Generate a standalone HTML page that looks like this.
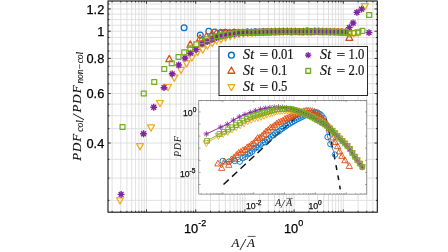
<!DOCTYPE html>
<html><head><meta charset="utf-8"><title>PDF ratio</title>
<style>html,body{margin:0;padding:0;background:#fff}body{width:448px;height:252px;overflow:hidden}svg{display:block}</style>
</head><body>
<svg width="448" height="252" viewBox="0 0 448 252">
<rect x="0" y="0" width="448" height="252" fill="#fff"/>
<defs><filter id="soft" x="-5%" y="-5%" width="110%" height="110%"><feGaussianBlur stdDeviation="0.4"/></filter></defs>
<path d="M112.11 1.0V212.2M120.77 1.0V212.2M126.92 1.0V212.2M131.69 1.0V212.2M135.59 1.0V212.2M138.88 1.0V212.2M141.73 1.0V212.2M144.25 1.0V212.2M146.50 1.0V212.2M161.31 1.0V212.2M169.97 1.0V212.2M176.12 1.0V212.2M180.89 1.0V212.2M184.79 1.0V212.2M188.08 1.0V212.2M190.93 1.0V212.2M193.45 1.0V212.2M195.70 1.0V212.2M210.51 1.0V212.2M219.17 1.0V212.2M225.32 1.0V212.2M230.09 1.0V212.2M233.99 1.0V212.2M237.28 1.0V212.2M240.13 1.0V212.2M242.65 1.0V212.2M244.90 1.0V212.2M259.71 1.0V212.2M268.37 1.0V212.2M274.52 1.0V212.2M279.29 1.0V212.2M283.19 1.0V212.2M286.48 1.0V212.2M289.33 1.0V212.2M291.85 1.0V212.2M294.10 1.0V212.2M308.91 1.0V212.2M317.57 1.0V212.2M323.72 1.0V212.2M328.49 1.0V212.2M332.39 1.0V212.2M335.68 1.0V212.2M338.53 1.0V212.2M341.05 1.0V212.2M343.30 1.0V212.2M358.11 1.0V212.2M366.77 1.0V212.2M372.92 1.0V212.2M108.0 200.38H377.3M108.0 178.13H377.3M108.0 159.32H377.3M108.0 143.02H377.3M108.0 128.65H377.3M108.0 115.79H377.3M108.0 104.16H377.3M108.0 93.54H377.3M108.0 83.77H377.3M108.0 74.73H377.3M108.0 66.31H377.3M108.0 58.43H377.3M108.0 51.03H377.3M108.0 44.06H377.3M108.0 37.46H377.3M108.0 31.20H377.3M108.0 25.25H377.3M108.0 19.57H377.3M108.0 14.14H377.3M108.0 8.95H377.3M108.0 3.97H377.3" stroke="#dcdcdc" stroke-width="0.85" fill="none"/>
<g id="data" filter="url(#soft)">
<circle cx="184.10" cy="27.70" r="2.9" stroke="#0070C4" stroke-width="1.2" fill="none"/>
<circle cx="200.30" cy="35.00" r="2.9" stroke="#0070C4" stroke-width="1.2" fill="none"/>
<circle cx="208.80" cy="31.20" r="2.9" stroke="#0070C4" stroke-width="1.2" fill="none"/>
<circle cx="214.80" cy="32.00" r="2.9" stroke="#0070C4" stroke-width="1.2" fill="none"/>
<circle cx="220.74" cy="32.44" r="2.9" stroke="#0070C4" stroke-width="1.2" fill="none"/>
<circle cx="225.18" cy="32.29" r="2.9" stroke="#0070C4" stroke-width="1.2" fill="none"/>
<circle cx="229.62" cy="32.74" r="2.9" stroke="#0070C4" stroke-width="1.2" fill="none"/>
<circle cx="234.06" cy="32.22" r="2.9" stroke="#0070C4" stroke-width="1.2" fill="none"/>
<circle cx="238.50" cy="32.63" r="2.9" stroke="#0070C4" stroke-width="1.2" fill="none"/>
<circle cx="242.94" cy="32.48" r="2.9" stroke="#0070C4" stroke-width="1.2" fill="none"/>
<circle cx="247.38" cy="32.07" r="2.9" stroke="#0070C4" stroke-width="1.2" fill="none"/>
<circle cx="251.38" cy="32.36" r="2.9" stroke="#0070C4" stroke-width="1.2" fill="none"/>
<circle cx="255.38" cy="31.82" r="2.9" stroke="#0070C4" stroke-width="1.2" fill="none"/>
<circle cx="259.38" cy="32.05" r="2.9" stroke="#0070C4" stroke-width="1.2" fill="none"/>
<circle cx="263.38" cy="31.61" r="2.9" stroke="#0070C4" stroke-width="1.2" fill="none"/>
<circle cx="267.38" cy="31.51" r="2.9" stroke="#0070C4" stroke-width="1.2" fill="none"/>
<circle cx="271.38" cy="31.69" r="2.9" stroke="#0070C4" stroke-width="1.2" fill="none"/>
<circle cx="275.38" cy="31.93" r="2.9" stroke="#0070C4" stroke-width="1.2" fill="none"/>
<circle cx="279.38" cy="31.18" r="2.9" stroke="#0070C4" stroke-width="1.2" fill="none"/>
<circle cx="283.38" cy="31.25" r="2.9" stroke="#0070C4" stroke-width="1.2" fill="none"/>
<circle cx="287.38" cy="31.61" r="2.9" stroke="#0070C4" stroke-width="1.2" fill="none"/>
<circle cx="291.38" cy="31.90" r="2.9" stroke="#0070C4" stroke-width="1.2" fill="none"/>
<circle cx="295.38" cy="31.57" r="2.9" stroke="#0070C4" stroke-width="1.2" fill="none"/>
<circle cx="299.38" cy="31.41" r="2.9" stroke="#0070C4" stroke-width="1.2" fill="none"/>
<circle cx="303.25" cy="31.93" r="2.9" stroke="#0070C4" stroke-width="1.2" fill="none"/>
<circle cx="307.12" cy="31.09" r="2.9" stroke="#0070C4" stroke-width="1.2" fill="none"/>
<circle cx="310.99" cy="31.82" r="2.9" stroke="#0070C4" stroke-width="1.2" fill="none"/>
<circle cx="314.86" cy="31.31" r="2.9" stroke="#0070C4" stroke-width="1.2" fill="none"/>
<circle cx="318.73" cy="31.18" r="2.9" stroke="#0070C4" stroke-width="1.2" fill="none"/>
<circle cx="322.60" cy="31.21" r="2.9" stroke="#0070C4" stroke-width="1.2" fill="none"/>
<circle cx="326.47" cy="31.47" r="2.9" stroke="#0070C4" stroke-width="1.2" fill="none"/>
<path d="M165.75 61.70L172.75 61.70L169.25 55.40Z" stroke="#DE4E12" stroke-width="1.2" fill="none" stroke-linejoin="round"/>
<path d="M186.80 47.20L193.80 47.20L190.30 40.90Z" stroke="#DE4E12" stroke-width="1.2" fill="none" stroke-linejoin="round"/>
<path d="M196.60 40.80L203.60 40.80L200.10 34.50Z" stroke="#DE4E12" stroke-width="1.2" fill="none" stroke-linejoin="round"/>
<path d="M202.90 38.99L209.90 38.99L206.40 32.70Z" stroke="#DE4E12" stroke-width="1.2" fill="none" stroke-linejoin="round"/>
<path d="M208.50 36.49L215.50 36.49L212.00 30.19Z" stroke="#DE4E12" stroke-width="1.2" fill="none" stroke-linejoin="round"/>
<path d="M212.80 35.65L219.80 35.65L216.30 29.35Z" stroke="#DE4E12" stroke-width="1.2" fill="none" stroke-linejoin="round"/>
<path d="M217.24 35.34L224.24 35.34L220.74 29.04Z" stroke="#DE4E12" stroke-width="1.2" fill="none" stroke-linejoin="round"/>
<path d="M221.68 35.54L228.68 35.54L225.18 29.24Z" stroke="#DE4E12" stroke-width="1.2" fill="none" stroke-linejoin="round"/>
<path d="M226.12 35.56L233.12 35.56L229.62 29.26Z" stroke="#DE4E12" stroke-width="1.2" fill="none" stroke-linejoin="round"/>
<path d="M230.56 35.43L237.56 35.43L234.06 29.13Z" stroke="#DE4E12" stroke-width="1.2" fill="none" stroke-linejoin="round"/>
<path d="M235.00 35.52L242.00 35.52L238.50 29.22Z" stroke="#DE4E12" stroke-width="1.2" fill="none" stroke-linejoin="round"/>
<path d="M239.44 35.28L246.44 35.28L242.94 28.98Z" stroke="#DE4E12" stroke-width="1.2" fill="none" stroke-linejoin="round"/>
<path d="M243.88 35.14L250.88 35.14L247.38 28.84Z" stroke="#DE4E12" stroke-width="1.2" fill="none" stroke-linejoin="round"/>
<path d="M247.88 35.10L254.88 35.10L251.38 28.80Z" stroke="#DE4E12" stroke-width="1.2" fill="none" stroke-linejoin="round"/>
<path d="M251.88 35.22L258.88 35.22L255.38 28.92Z" stroke="#DE4E12" stroke-width="1.2" fill="none" stroke-linejoin="round"/>
<path d="M255.88 34.97L262.88 34.97L259.38 28.67Z" stroke="#DE4E12" stroke-width="1.2" fill="none" stroke-linejoin="round"/>
<path d="M259.88 34.80L266.88 34.80L263.38 28.50Z" stroke="#DE4E12" stroke-width="1.2" fill="none" stroke-linejoin="round"/>
<path d="M263.88 34.81L270.88 34.81L267.38 28.51Z" stroke="#DE4E12" stroke-width="1.2" fill="none" stroke-linejoin="round"/>
<path d="M267.88 34.63L274.88 34.63L271.38 28.33Z" stroke="#DE4E12" stroke-width="1.2" fill="none" stroke-linejoin="round"/>
<path d="M271.88 34.43L278.88 34.43L275.38 28.13Z" stroke="#DE4E12" stroke-width="1.2" fill="none" stroke-linejoin="round"/>
<path d="M275.88 34.56L282.88 34.56L279.38 28.26Z" stroke="#DE4E12" stroke-width="1.2" fill="none" stroke-linejoin="round"/>
<path d="M279.88 34.49L286.88 34.49L283.38 28.19Z" stroke="#DE4E12" stroke-width="1.2" fill="none" stroke-linejoin="round"/>
<path d="M283.88 34.27L290.88 34.27L287.38 27.97Z" stroke="#DE4E12" stroke-width="1.2" fill="none" stroke-linejoin="round"/>
<path d="M287.88 34.43L294.88 34.43L291.38 28.13Z" stroke="#DE4E12" stroke-width="1.2" fill="none" stroke-linejoin="round"/>
<path d="M291.88 34.41L298.88 34.41L295.38 28.11Z" stroke="#DE4E12" stroke-width="1.2" fill="none" stroke-linejoin="round"/>
<path d="M295.88 34.58L302.88 34.58L299.38 28.28Z" stroke="#DE4E12" stroke-width="1.2" fill="none" stroke-linejoin="round"/>
<path d="M299.75 34.51L306.75 34.51L303.25 28.21Z" stroke="#DE4E12" stroke-width="1.2" fill="none" stroke-linejoin="round"/>
<path d="M303.62 34.29L310.62 34.29L307.12 27.99Z" stroke="#DE4E12" stroke-width="1.2" fill="none" stroke-linejoin="round"/>
<path d="M307.49 34.64L314.49 34.64L310.99 28.34Z" stroke="#DE4E12" stroke-width="1.2" fill="none" stroke-linejoin="round"/>
<path d="M311.36 34.20L318.36 34.20L314.86 27.90Z" stroke="#DE4E12" stroke-width="1.2" fill="none" stroke-linejoin="round"/>
<path d="M315.23 34.35L322.23 34.35L318.73 28.05Z" stroke="#DE4E12" stroke-width="1.2" fill="none" stroke-linejoin="round"/>
<path d="M319.10 34.58L326.10 34.58L322.60 28.28Z" stroke="#DE4E12" stroke-width="1.2" fill="none" stroke-linejoin="round"/>
<path d="M322.97 34.36L329.97 34.36L326.47 28.06Z" stroke="#DE4E12" stroke-width="1.2" fill="none" stroke-linejoin="round"/>
<path d="M326.84 34.62L333.84 34.62L330.34 28.32Z" stroke="#DE4E12" stroke-width="1.2" fill="none" stroke-linejoin="round"/>
<path d="M330.71 34.48L337.71 34.48L334.21 28.18Z" stroke="#DE4E12" stroke-width="1.2" fill="none" stroke-linejoin="round"/>
<path d="M334.58 34.88L341.58 34.88L338.08 28.58Z" stroke="#DE4E12" stroke-width="1.2" fill="none" stroke-linejoin="round"/>
<path d="M338.45 35.01L345.45 35.01L341.95 28.71Z" stroke="#DE4E12" stroke-width="1.2" fill="none" stroke-linejoin="round"/>
<path d="M342.32 35.00L349.32 35.00L345.82 28.70Z" stroke="#DE4E12" stroke-width="1.2" fill="none" stroke-linejoin="round"/>
<path d="M345.80 40.40L352.80 40.40L349.30 34.10Z" stroke="#DE4E12" stroke-width="1.2" fill="none" stroke-linejoin="round"/>
<path d="M116.50 197.81L123.50 197.81L120.00 204.10Z" stroke="#F0AB18" stroke-width="1.2" fill="none" stroke-linejoin="round"/>
<path d="M136.50 143.56L143.50 143.56L140.00 149.85Z" stroke="#F0AB18" stroke-width="1.2" fill="none" stroke-linejoin="round"/>
<path d="M147.50 124.91L154.50 124.91L151.00 131.20Z" stroke="#F0AB18" stroke-width="1.2" fill="none" stroke-linejoin="round"/>
<path d="M156.50 100.50L163.50 100.50L160.00 106.81Z" stroke="#F0AB18" stroke-width="1.2" fill="none" stroke-linejoin="round"/>
<path d="M164.50 84.50L171.50 84.50L168.00 90.81Z" stroke="#F0AB18" stroke-width="1.2" fill="none" stroke-linejoin="round"/>
<path d="M170.75 75.10L177.75 75.10L174.25 81.41Z" stroke="#F0AB18" stroke-width="1.2" fill="none" stroke-linejoin="round"/>
<path d="M177.50 67.31L184.50 67.31L181.00 73.61Z" stroke="#F0AB18" stroke-width="1.2" fill="none" stroke-linejoin="round"/>
<path d="M183.00 60.80L190.00 60.80L186.50 67.11Z" stroke="#F0AB18" stroke-width="1.2" fill="none" stroke-linejoin="round"/>
<path d="M188.40 54.91L195.40 54.91L191.90 61.20Z" stroke="#F0AB18" stroke-width="1.2" fill="none" stroke-linejoin="round"/>
<path d="M194.10 49.30L201.10 49.30L197.60 55.60Z" stroke="#F0AB18" stroke-width="1.2" fill="none" stroke-linejoin="round"/>
<path d="M199.20 46.91L206.20 46.91L202.70 53.20Z" stroke="#F0AB18" stroke-width="1.2" fill="none" stroke-linejoin="round"/>
<path d="M204.00 42.91L211.00 42.91L207.50 49.20Z" stroke="#F0AB18" stroke-width="1.2" fill="none" stroke-linejoin="round"/>
<path d="M208.70 40.41L215.70 40.41L212.20 46.70Z" stroke="#F0AB18" stroke-width="1.2" fill="none" stroke-linejoin="round"/>
<path d="M213.10 37.70L220.10 37.70L216.60 44.00Z" stroke="#F0AB18" stroke-width="1.2" fill="none" stroke-linejoin="round"/>
<path d="M217.50 36.60L224.50 36.60L221.00 42.90Z" stroke="#F0AB18" stroke-width="1.2" fill="none" stroke-linejoin="round"/>
<path d="M222.00 34.80L229.00 34.80L225.50 41.10Z" stroke="#F0AB18" stroke-width="1.2" fill="none" stroke-linejoin="round"/>
<path d="M226.80 33.30L233.80 33.30L230.30 39.60Z" stroke="#F0AB18" stroke-width="1.2" fill="none" stroke-linejoin="round"/>
<path d="M231.10 32.10L238.10 32.10L234.60 38.40Z" stroke="#F0AB18" stroke-width="1.2" fill="none" stroke-linejoin="round"/>
<path d="M235.50 31.30L242.50 31.30L239.00 37.60Z" stroke="#F0AB18" stroke-width="1.2" fill="none" stroke-linejoin="round"/>
<path d="M239.90 30.70L246.90 30.70L243.40 37.00Z" stroke="#F0AB18" stroke-width="1.2" fill="none" stroke-linejoin="round"/>
<path d="M244.30 30.30L251.30 30.30L247.80 36.60Z" stroke="#F0AB18" stroke-width="1.2" fill="none" stroke-linejoin="round"/>
<path d="M248.70 30.10L255.70 30.10L252.20 36.40Z" stroke="#F0AB18" stroke-width="1.2" fill="none" stroke-linejoin="round"/>
<path d="M251.88 29.72L258.88 29.72L255.38 36.02Z" stroke="#F0AB18" stroke-width="1.2" fill="none" stroke-linejoin="round"/>
<path d="M255.88 29.32L262.88 29.32L259.38 35.62Z" stroke="#F0AB18" stroke-width="1.2" fill="none" stroke-linejoin="round"/>
<path d="M259.88 29.40L266.88 29.40L263.38 35.70Z" stroke="#F0AB18" stroke-width="1.2" fill="none" stroke-linejoin="round"/>
<path d="M263.88 29.23L270.88 29.23L267.38 35.53Z" stroke="#F0AB18" stroke-width="1.2" fill="none" stroke-linejoin="round"/>
<path d="M267.88 29.10L274.88 29.10L271.38 35.40Z" stroke="#F0AB18" stroke-width="1.2" fill="none" stroke-linejoin="round"/>
<path d="M271.88 28.92L278.88 28.92L275.38 35.22Z" stroke="#F0AB18" stroke-width="1.2" fill="none" stroke-linejoin="round"/>
<path d="M275.88 28.99L282.88 28.99L279.38 35.29Z" stroke="#F0AB18" stroke-width="1.2" fill="none" stroke-linejoin="round"/>
<path d="M279.88 29.03L286.88 29.03L283.38 35.33Z" stroke="#F0AB18" stroke-width="1.2" fill="none" stroke-linejoin="round"/>
<path d="M283.88 28.79L290.88 28.79L287.38 35.09Z" stroke="#F0AB18" stroke-width="1.2" fill="none" stroke-linejoin="round"/>
<path d="M287.88 28.89L294.88 28.89L291.38 35.19Z" stroke="#F0AB18" stroke-width="1.2" fill="none" stroke-linejoin="round"/>
<path d="M291.88 28.59L298.88 28.59L295.38 34.89Z" stroke="#F0AB18" stroke-width="1.2" fill="none" stroke-linejoin="round"/>
<path d="M295.88 28.91L302.88 28.91L299.38 35.21Z" stroke="#F0AB18" stroke-width="1.2" fill="none" stroke-linejoin="round"/>
<path d="M299.75 28.88L306.75 28.88L303.25 35.18Z" stroke="#F0AB18" stroke-width="1.2" fill="none" stroke-linejoin="round"/>
<path d="M303.62 29.05L310.62 29.05L307.12 35.35Z" stroke="#F0AB18" stroke-width="1.2" fill="none" stroke-linejoin="round"/>
<path d="M307.49 28.97L314.49 28.97L310.99 35.27Z" stroke="#F0AB18" stroke-width="1.2" fill="none" stroke-linejoin="round"/>
<path d="M311.36 28.70L318.36 28.70L314.86 35.00Z" stroke="#F0AB18" stroke-width="1.2" fill="none" stroke-linejoin="round"/>
<path d="M315.23 28.75L322.23 28.75L318.73 35.05Z" stroke="#F0AB18" stroke-width="1.2" fill="none" stroke-linejoin="round"/>
<path d="M319.10 28.95L326.10 28.95L322.60 35.25Z" stroke="#F0AB18" stroke-width="1.2" fill="none" stroke-linejoin="round"/>
<path d="M322.97 28.71L329.97 28.71L326.47 35.01Z" stroke="#F0AB18" stroke-width="1.2" fill="none" stroke-linejoin="round"/>
<path d="M326.84 29.01L333.84 29.01L330.34 35.31Z" stroke="#F0AB18" stroke-width="1.2" fill="none" stroke-linejoin="round"/>
<path d="M330.71 28.95L337.71 28.95L334.21 35.25Z" stroke="#F0AB18" stroke-width="1.2" fill="none" stroke-linejoin="round"/>
<path d="M334.58 29.01L341.58 29.01L338.08 35.31Z" stroke="#F0AB18" stroke-width="1.2" fill="none" stroke-linejoin="round"/>
<path d="M338.45 29.07L345.45 29.07L341.95 35.37Z" stroke="#F0AB18" stroke-width="1.2" fill="none" stroke-linejoin="round"/>
<path d="M342.32 29.51L349.32 29.51L345.82 35.81Z" stroke="#F0AB18" stroke-width="1.2" fill="none" stroke-linejoin="round"/>
<path d="M345.80 30.70L352.80 30.70L349.30 37.00Z" stroke="#F0AB18" stroke-width="1.2" fill="none" stroke-linejoin="round"/>
<path d="M350.25 30.51L357.25 30.51L353.75 36.80Z" stroke="#F0AB18" stroke-width="1.2" fill="none" stroke-linejoin="round"/>
<path d="M354.70 29.80L361.70 29.80L358.20 36.10Z" stroke="#F0AB18" stroke-width="1.2" fill="none" stroke-linejoin="round"/>
<path d="M361.40 3.60L368.40 3.60L364.90 9.90Z" stroke="#F0AB18" stroke-width="1.2" fill="none" stroke-linejoin="round"/>
<path d="M117.70 194.40H124.50M121.10 191.00V197.80M118.70 192.00L123.50 196.80M118.70 196.80L123.50 192.00" stroke="#80259A" stroke-width="1.4" fill="none"/>
<path d="M140.10 133.75H146.90M143.50 130.35V137.15M141.10 131.35L145.90 136.15M141.10 136.15L145.90 131.35" stroke="#80259A" stroke-width="1.4" fill="none"/>
<path d="M150.35 107.25H157.15M153.75 103.85V110.65M151.35 104.85L156.15 109.65M151.35 109.65L156.15 104.85" stroke="#80259A" stroke-width="1.4" fill="none"/>
<path d="M160.60 87.70H167.40M164.00 84.30V91.10M161.60 85.30L166.40 90.10M161.60 90.10L166.40 85.30" stroke="#80259A" stroke-width="1.4" fill="none"/>
<path d="M168.80 73.80H175.60M172.20 70.40V77.20M169.80 71.40L174.60 76.20M169.80 76.20L174.60 71.40" stroke="#80259A" stroke-width="1.4" fill="none"/>
<path d="M175.35 65.00H182.15M178.75 61.60V68.40M176.35 62.60L181.15 67.40M176.35 67.40L181.15 62.60" stroke="#80259A" stroke-width="1.4" fill="none"/>
<path d="M181.60 58.00H188.40M185.00 54.60V61.40M182.60 55.60L187.40 60.40M182.60 60.40L187.40 55.60" stroke="#80259A" stroke-width="1.4" fill="none"/>
<path d="M187.00 53.20H193.80M190.40 49.80V56.60M188.00 50.80L192.80 55.60M188.00 55.60L192.80 50.80" stroke="#80259A" stroke-width="1.4" fill="none"/>
<path d="M192.60 49.50H199.40M196.00 46.10V52.90M193.60 47.10L198.40 51.90M193.60 51.90L198.40 47.10" stroke="#80259A" stroke-width="1.4" fill="none"/>
<path d="M198.60 43.90H205.40M202.00 40.50V47.30M199.60 41.50L204.40 46.30M199.60 46.30L204.40 41.50" stroke="#80259A" stroke-width="1.4" fill="none"/>
<path d="M203.70 41.70H210.50M207.10 38.30V45.10M204.70 39.30L209.50 44.10M204.70 44.10L209.50 39.30" stroke="#80259A" stroke-width="1.4" fill="none"/>
<path d="M208.60 39.70H215.40M212.00 36.30V43.10M209.60 37.30L214.40 42.10M209.60 42.10L214.40 37.30" stroke="#80259A" stroke-width="1.4" fill="none"/>
<path d="M213.20 37.50H220.00M216.60 34.10V40.90M214.20 35.10L219.00 39.90M214.20 39.90L219.00 35.10" stroke="#80259A" stroke-width="1.4" fill="none"/>
<path d="M217.60 36.25H224.40M221.00 32.85V39.65M218.60 33.85L223.40 38.65M218.60 38.65L223.40 33.85" stroke="#80259A" stroke-width="1.4" fill="none"/>
<path d="M222.10 35.30H228.90M225.50 31.90V38.70M223.10 32.90L227.90 37.70M223.10 37.70L227.90 32.90" stroke="#80259A" stroke-width="1.4" fill="none"/>
<path d="M226.60 34.50H233.40M230.00 31.10V37.90M227.60 32.10L232.40 36.90M227.60 36.90L232.40 32.10" stroke="#80259A" stroke-width="1.4" fill="none"/>
<path d="M231.00 33.80H237.80M234.40 30.40V37.20M232.00 31.40L236.80 36.20M232.00 36.20L236.80 31.40" stroke="#80259A" stroke-width="1.4" fill="none"/>
<path d="M235.40 33.20H242.20M238.80 29.80V36.60M236.40 30.80L241.20 35.60M236.40 35.60L241.20 30.80" stroke="#80259A" stroke-width="1.4" fill="none"/>
<path d="M239.80 32.80H246.60M243.20 29.40V36.20M240.80 30.40L245.60 35.20M240.80 35.20L245.60 30.40" stroke="#80259A" stroke-width="1.4" fill="none"/>
<path d="M243.98 32.47H250.78M247.38 29.07V35.87M244.98 30.07L249.78 34.87M244.98 34.87L249.78 30.07" stroke="#80259A" stroke-width="1.4" fill="none"/>
<path d="M247.98 32.35H254.78M251.38 28.95V35.75M248.98 29.95L253.78 34.76M248.98 34.76L253.78 29.95" stroke="#80259A" stroke-width="1.4" fill="none"/>
<path d="M251.98 32.23H258.78M255.38 28.83V35.63M252.98 29.83L257.78 34.64M252.98 34.64L257.78 29.83" stroke="#80259A" stroke-width="1.4" fill="none"/>
<path d="M255.98 32.11H262.78M259.38 28.71V35.51M256.98 29.71L261.78 34.52M256.98 34.52L261.78 29.71" stroke="#80259A" stroke-width="1.4" fill="none"/>
<path d="M259.98 31.99H266.78M263.38 28.59V35.39M260.98 29.59L265.78 34.40M260.98 34.40L265.78 29.59" stroke="#80259A" stroke-width="1.4" fill="none"/>
<path d="M263.98 31.88H270.78M267.38 28.48V35.28M264.98 29.47L269.78 34.28M264.98 34.28L269.78 29.47" stroke="#80259A" stroke-width="1.4" fill="none"/>
<path d="M267.98 31.76H274.78M271.38 28.36V35.16M268.98 29.35L273.78 34.16M268.98 34.16L273.78 29.35" stroke="#80259A" stroke-width="1.4" fill="none"/>
<path d="M271.98 31.64H278.78M275.38 28.24V35.04M272.98 29.23L277.78 34.04M272.98 34.04L277.78 29.23" stroke="#80259A" stroke-width="1.4" fill="none"/>
<path d="M275.98 31.52H282.78M279.38 28.12V34.92M276.98 29.11L281.78 33.92M276.98 33.92L281.78 29.11" stroke="#80259A" stroke-width="1.4" fill="none"/>
<path d="M279.98 31.50H286.78M283.38 28.10V34.90M280.98 29.10L285.78 33.90M280.98 33.90L285.78 29.10" stroke="#80259A" stroke-width="1.4" fill="none"/>
<path d="M283.98 31.50H290.78M287.38 28.10V34.90M284.98 29.10L289.78 33.90M284.98 33.90L289.78 29.10" stroke="#80259A" stroke-width="1.4" fill="none"/>
<path d="M287.98 31.50H294.78M291.38 28.10V34.90M288.98 29.10L293.78 33.90M288.98 33.90L293.78 29.10" stroke="#80259A" stroke-width="1.4" fill="none"/>
<path d="M291.98 31.50H298.78M295.38 28.10V34.90M292.98 29.10L297.78 33.90M292.98 33.90L297.78 29.10" stroke="#80259A" stroke-width="1.4" fill="none"/>
<path d="M295.98 31.50H302.78M299.38 28.10V34.90M296.98 29.10L301.78 33.90M296.98 33.90L301.78 29.10" stroke="#80259A" stroke-width="1.4" fill="none"/>
<path d="M299.85 31.50H306.65M303.25 28.10V34.90M300.85 29.10L305.65 33.90M300.85 33.90L305.65 29.10" stroke="#80259A" stroke-width="1.4" fill="none"/>
<path d="M303.72 31.50H310.52M307.12 28.10V34.90M304.72 29.10L309.52 33.90M304.72 33.90L309.52 29.10" stroke="#80259A" stroke-width="1.4" fill="none"/>
<path d="M307.59 31.50H314.39M310.99 28.10V34.90M308.59 29.10L313.39 33.90M308.59 33.90L313.39 29.10" stroke="#80259A" stroke-width="1.4" fill="none"/>
<path d="M311.46 31.50H318.26M314.86 28.10V34.90M312.46 29.10L317.26 33.90M312.46 33.90L317.26 29.10" stroke="#80259A" stroke-width="1.4" fill="none"/>
<path d="M315.33 31.50H322.13M318.73 28.10V34.90M316.33 29.10L321.13 33.90M316.33 33.90L321.13 29.10" stroke="#80259A" stroke-width="1.4" fill="none"/>
<path d="M319.20 31.56H326.00M322.60 28.16V34.96M320.20 29.15L325.00 33.96M320.20 33.96L325.00 29.15" stroke="#80259A" stroke-width="1.4" fill="none"/>
<path d="M323.07 31.64H329.87M326.47 28.24V35.04M324.07 29.24L328.87 34.05M324.07 34.05L328.87 29.24" stroke="#80259A" stroke-width="1.4" fill="none"/>
<path d="M326.94 31.73H333.74M330.34 28.33V35.13M327.94 29.32L332.74 34.13M327.94 34.13L332.74 29.32" stroke="#80259A" stroke-width="1.4" fill="none"/>
<path d="M330.81 31.81H337.61M334.21 28.41V35.21M331.81 29.41L336.61 34.22M331.81 34.22L336.61 29.41" stroke="#80259A" stroke-width="1.4" fill="none"/>
<path d="M334.68 31.90H341.48M338.08 28.50V35.30M335.68 29.49L340.48 34.30M335.68 34.30L340.48 29.49" stroke="#80259A" stroke-width="1.4" fill="none"/>
<path d="M338.55 31.98H345.35M341.95 28.58V35.38M339.55 29.58L344.35 34.39M339.55 34.39L344.35 29.58" stroke="#80259A" stroke-width="1.4" fill="none"/>
<path d="M342.42 32.07H349.22M345.82 28.67V35.47M343.42 29.66L348.22 34.47M343.42 34.47L348.22 29.66" stroke="#80259A" stroke-width="1.4" fill="none"/>
<path d="M345.90 27.60H352.70M349.30 24.20V31.00M346.90 25.20L351.70 30.00M346.90 30.00L351.70 25.20" stroke="#80259A" stroke-width="1.4" fill="none"/>
<path d="M349.70 23.00H356.50M353.10 19.60V26.40M350.70 20.60L355.50 25.40M350.70 25.40L355.50 20.60" stroke="#80259A" stroke-width="1.4" fill="none"/>
<path d="M353.50 12.40H360.30M356.90 9.00V15.80M354.50 10.00L359.30 14.80M354.50 14.80L359.30 10.00" stroke="#80259A" stroke-width="1.4" fill="none"/>
<path d="M358.20 9.10H365.00M361.60 5.70V12.50M359.20 6.70L364.00 11.50M359.20 11.50L364.00 6.70" stroke="#80259A" stroke-width="1.4" fill="none"/>
<path d="M365.60 32.60H372.40M369.00 29.20V36.00M366.60 30.20L371.40 35.00M366.60 35.00L371.40 30.20" stroke="#80259A" stroke-width="1.4" fill="none"/>
<rect x="120.05" y="124.55" width="4.90" height="4.90" stroke="#6FAE22" stroke-width="1.2" fill="none" stroke-linejoin="round"/>
<rect x="141.30" y="91.05" width="4.90" height="4.90" stroke="#6FAE22" stroke-width="1.2" fill="none" stroke-linejoin="round"/>
<rect x="151.80" y="79.55" width="4.90" height="4.90" stroke="#6FAE22" stroke-width="1.2" fill="none" stroke-linejoin="round"/>
<rect x="161.80" y="66.55" width="4.90" height="4.90" stroke="#6FAE22" stroke-width="1.2" fill="none" stroke-linejoin="round"/>
<rect x="169.30" y="60.75" width="4.90" height="4.90" stroke="#6FAE22" stroke-width="1.2" fill="none" stroke-linejoin="round"/>
<rect x="176.05" y="54.55" width="4.90" height="4.90" stroke="#6FAE22" stroke-width="1.2" fill="none" stroke-linejoin="round"/>
<rect x="181.80" y="49.85" width="4.90" height="4.90" stroke="#6FAE22" stroke-width="1.2" fill="none" stroke-linejoin="round"/>
<rect x="187.85" y="45.85" width="4.90" height="4.90" stroke="#6FAE22" stroke-width="1.2" fill="none" stroke-linejoin="round"/>
<rect x="193.85" y="41.80" width="4.90" height="4.90" stroke="#6FAE22" stroke-width="1.2" fill="none" stroke-linejoin="round"/>
<rect x="199.55" y="38.65" width="4.90" height="4.90" stroke="#6FAE22" stroke-width="1.2" fill="none" stroke-linejoin="round"/>
<rect x="204.65" y="36.75" width="4.90" height="4.90" stroke="#6FAE22" stroke-width="1.2" fill="none" stroke-linejoin="round"/>
<rect x="209.75" y="35.05" width="4.90" height="4.90" stroke="#6FAE22" stroke-width="1.2" fill="none" stroke-linejoin="round"/>
<rect x="214.15" y="33.80" width="4.90" height="4.90" stroke="#6FAE22" stroke-width="1.2" fill="none" stroke-linejoin="round"/>
<rect x="218.65" y="32.95" width="4.90" height="4.90" stroke="#6FAE22" stroke-width="1.2" fill="none" stroke-linejoin="round"/>
<rect x="223.05" y="32.15" width="4.90" height="4.90" stroke="#6FAE22" stroke-width="1.2" fill="none" stroke-linejoin="round"/>
<rect x="227.55" y="31.55" width="4.90" height="4.90" stroke="#6FAE22" stroke-width="1.2" fill="none" stroke-linejoin="round"/>
<rect x="231.65" y="30.75" width="4.90" height="4.90" stroke="#6FAE22" stroke-width="1.2" fill="none" stroke-linejoin="round"/>
<rect x="236.05" y="30.25" width="4.90" height="4.90" stroke="#6FAE22" stroke-width="1.2" fill="none" stroke-linejoin="round"/>
<rect x="240.55" y="29.95" width="4.90" height="4.90" stroke="#6FAE22" stroke-width="1.2" fill="none" stroke-linejoin="round"/>
<rect x="244.95" y="29.75" width="4.90" height="4.90" stroke="#6FAE22" stroke-width="1.2" fill="none" stroke-linejoin="round"/>
<rect x="248.93" y="29.90" width="4.90" height="4.90" stroke="#6FAE22" stroke-width="1.2" fill="none" stroke-linejoin="round"/>
<rect x="252.93" y="29.78" width="4.90" height="4.90" stroke="#6FAE22" stroke-width="1.2" fill="none" stroke-linejoin="round"/>
<rect x="256.93" y="29.66" width="4.90" height="4.90" stroke="#6FAE22" stroke-width="1.2" fill="none" stroke-linejoin="round"/>
<rect x="260.93" y="29.54" width="4.90" height="4.90" stroke="#6FAE22" stroke-width="1.2" fill="none" stroke-linejoin="round"/>
<rect x="264.93" y="29.43" width="4.90" height="4.90" stroke="#6FAE22" stroke-width="1.2" fill="none" stroke-linejoin="round"/>
<rect x="268.93" y="29.31" width="4.90" height="4.90" stroke="#6FAE22" stroke-width="1.2" fill="none" stroke-linejoin="round"/>
<rect x="272.93" y="29.19" width="4.90" height="4.90" stroke="#6FAE22" stroke-width="1.2" fill="none" stroke-linejoin="round"/>
<rect x="276.93" y="29.07" width="4.90" height="4.90" stroke="#6FAE22" stroke-width="1.2" fill="none" stroke-linejoin="round"/>
<rect x="280.93" y="29.05" width="4.90" height="4.90" stroke="#6FAE22" stroke-width="1.2" fill="none" stroke-linejoin="round"/>
<rect x="284.93" y="29.05" width="4.90" height="4.90" stroke="#6FAE22" stroke-width="1.2" fill="none" stroke-linejoin="round"/>
<rect x="288.93" y="29.05" width="4.90" height="4.90" stroke="#6FAE22" stroke-width="1.2" fill="none" stroke-linejoin="round"/>
<rect x="292.93" y="29.05" width="4.90" height="4.90" stroke="#6FAE22" stroke-width="1.2" fill="none" stroke-linejoin="round"/>
<rect x="296.93" y="29.05" width="4.90" height="4.90" stroke="#6FAE22" stroke-width="1.2" fill="none" stroke-linejoin="round"/>
<rect x="300.80" y="29.05" width="4.90" height="4.90" stroke="#6FAE22" stroke-width="1.2" fill="none" stroke-linejoin="round"/>
<rect x="304.67" y="29.05" width="4.90" height="4.90" stroke="#6FAE22" stroke-width="1.2" fill="none" stroke-linejoin="round"/>
<rect x="308.54" y="29.05" width="4.90" height="4.90" stroke="#6FAE22" stroke-width="1.2" fill="none" stroke-linejoin="round"/>
<rect x="312.41" y="29.05" width="4.90" height="4.90" stroke="#6FAE22" stroke-width="1.2" fill="none" stroke-linejoin="round"/>
<rect x="316.28" y="29.05" width="4.90" height="4.90" stroke="#6FAE22" stroke-width="1.2" fill="none" stroke-linejoin="round"/>
<rect x="320.15" y="29.11" width="4.90" height="4.90" stroke="#6FAE22" stroke-width="1.2" fill="none" stroke-linejoin="round"/>
<rect x="324.02" y="29.19" width="4.90" height="4.90" stroke="#6FAE22" stroke-width="1.2" fill="none" stroke-linejoin="round"/>
<rect x="327.89" y="29.28" width="4.90" height="4.90" stroke="#6FAE22" stroke-width="1.2" fill="none" stroke-linejoin="round"/>
<rect x="331.76" y="29.36" width="4.90" height="4.90" stroke="#6FAE22" stroke-width="1.2" fill="none" stroke-linejoin="round"/>
<rect x="335.63" y="29.45" width="4.90" height="4.90" stroke="#6FAE22" stroke-width="1.2" fill="none" stroke-linejoin="round"/>
<rect x="339.50" y="29.53" width="4.90" height="4.90" stroke="#6FAE22" stroke-width="1.2" fill="none" stroke-linejoin="round"/>
<rect x="343.37" y="29.62" width="4.90" height="4.90" stroke="#6FAE22" stroke-width="1.2" fill="none" stroke-linejoin="round"/>
<rect x="346.85" y="30.95" width="4.90" height="4.90" stroke="#6FAE22" stroke-width="1.2" fill="none" stroke-linejoin="round"/>
<rect x="351.30" y="30.75" width="4.90" height="4.90" stroke="#6FAE22" stroke-width="1.2" fill="none" stroke-linejoin="round"/>
<rect x="355.75" y="30.05" width="4.90" height="4.90" stroke="#6FAE22" stroke-width="1.2" fill="none" stroke-linejoin="round"/>
<rect x="359.95" y="28.45" width="4.90" height="4.90" stroke="#6FAE22" stroke-width="1.2" fill="none" stroke-linejoin="round"/>
<rect x="366.75" y="12.55" width="4.90" height="4.90" stroke="#6FAE22" stroke-width="1.2" fill="none" stroke-linejoin="round"/>
</g>
<rect x="108.0" y="1.0" width="269.3" height="211.2" fill="none" stroke="#111" stroke-width="1.1"/>
<path d="M112.11 212.2v-1.4M112.11 1.0v1.4M120.77 212.2v-1.4M120.77 1.0v1.4M126.92 212.2v-1.4M126.92 1.0v1.4M131.69 212.2v-1.4M131.69 1.0v1.4M135.59 212.2v-1.4M135.59 1.0v1.4M138.88 212.2v-1.4M138.88 1.0v1.4M141.73 212.2v-1.4M141.73 1.0v1.4M144.25 212.2v-1.4M144.25 1.0v1.4M146.50 212.2v-2.8M146.50 1.0v2.8M161.31 212.2v-1.4M161.31 1.0v1.4M169.97 212.2v-1.4M169.97 1.0v1.4M176.12 212.2v-1.4M176.12 1.0v1.4M180.89 212.2v-1.4M180.89 1.0v1.4M184.79 212.2v-1.4M184.79 1.0v1.4M188.08 212.2v-1.4M188.08 1.0v1.4M190.93 212.2v-1.4M190.93 1.0v1.4M193.45 212.2v-1.4M193.45 1.0v1.4M195.70 212.2v-2.8M195.70 1.0v2.8M210.51 212.2v-1.4M210.51 1.0v1.4M219.17 212.2v-1.4M219.17 1.0v1.4M225.32 212.2v-1.4M225.32 1.0v1.4M230.09 212.2v-1.4M230.09 1.0v1.4M233.99 212.2v-1.4M233.99 1.0v1.4M237.28 212.2v-1.4M237.28 1.0v1.4M240.13 212.2v-1.4M240.13 1.0v1.4M242.65 212.2v-1.4M242.65 1.0v1.4M244.90 212.2v-2.8M244.90 1.0v2.8M259.71 212.2v-1.4M259.71 1.0v1.4M268.37 212.2v-1.4M268.37 1.0v1.4M274.52 212.2v-1.4M274.52 1.0v1.4M279.29 212.2v-1.4M279.29 1.0v1.4M283.19 212.2v-1.4M283.19 1.0v1.4M286.48 212.2v-1.4M286.48 1.0v1.4M289.33 212.2v-1.4M289.33 1.0v1.4M291.85 212.2v-1.4M291.85 1.0v1.4M294.10 212.2v-2.8M294.10 1.0v2.8M308.91 212.2v-1.4M308.91 1.0v1.4M317.57 212.2v-1.4M317.57 1.0v1.4M323.72 212.2v-1.4M323.72 1.0v1.4M328.49 212.2v-1.4M328.49 1.0v1.4M332.39 212.2v-1.4M332.39 1.0v1.4M335.68 212.2v-1.4M335.68 1.0v1.4M338.53 212.2v-1.4M338.53 1.0v1.4M341.05 212.2v-1.4M341.05 1.0v1.4M343.30 212.2v-2.8M343.30 1.0v2.8M358.11 212.2v-1.4M358.11 1.0v1.4M366.77 212.2v-1.4M366.77 1.0v1.4M372.92 212.2v-1.4M372.92 1.0v1.4M108.0 200.38h1.4M377.3 200.38h-1.4M108.0 178.13h1.4M377.3 178.13h-1.4M108.0 159.32h1.4M377.3 159.32h-1.4M108.0 143.02h2.8M377.3 143.02h-2.8M108.0 128.65h1.4M377.3 128.65h-1.4M108.0 115.79h1.4M377.3 115.79h-1.4M108.0 104.16h1.4M377.3 104.16h-1.4M108.0 93.54h2.8M377.3 93.54h-2.8M108.0 83.77h1.4M377.3 83.77h-1.4M108.0 74.73h1.4M377.3 74.73h-1.4M108.0 66.31h1.4M377.3 66.31h-1.4M108.0 58.43h2.8M377.3 58.43h-2.8M108.0 51.03h1.4M377.3 51.03h-1.4M108.0 44.06h1.4M377.3 44.06h-1.4M108.0 37.46h1.4M377.3 37.46h-1.4M108.0 31.20h2.8M377.3 31.20h-2.8M108.0 25.25h1.4M377.3 25.25h-1.4M108.0 19.57h1.4M377.3 19.57h-1.4M108.0 14.14h1.4M377.3 14.14h-1.4M108.0 8.95h2.8M377.3 8.95h-2.8M108.0 3.97h1.4M377.3 3.97h-1.4" stroke="#111" stroke-width="0.8" fill="none"/>
<g font-family="'Liberation Sans', Arial, sans-serif" font-size="12.8" fill="#000" stroke="#000" stroke-width="0.25">
<text x="104.3" y="13.85" text-anchor="end">1.2</text>
<text x="104.3" y="36.10" text-anchor="end">1</text>
<text x="104.3" y="63.33" text-anchor="end">0.8</text>
<text x="104.3" y="98.44" text-anchor="end">0.6</text>
<text x="104.3" y="147.92" text-anchor="end">0.4</text>
<text x="184.00" y="232.7">10<tspan font-size="9" dy="-6.8">-2</tspan></text>
<text x="284.00" y="232.7">10<tspan font-size="9" dy="-6.8">0</tspan></text>
</g>
<g font-family="'Liberation Serif', 'Times New Roman', serif" font-style="italic" fill="#111" stroke="#111" stroke-width="0.12">
<text x="231.4" y="247.3" font-size="13">A</text>
<text x="240.3" y="250.2" font-size="17.5" stroke-width="0">/</text>
<text x="246.9" y="247.3" font-size="13">A</text>
<path d="M247.6 236.4H255.6" stroke="#111" stroke-width="0.7"/>
<text transform="translate(80.5 160.8) rotate(-90)" font-size="13" letter-spacing="0.9">PDF</text>
<text transform="translate(82.6 131.8) rotate(-90)" font-size="9.6">col</text>
<text transform="translate(84.2 119.4) rotate(-90)" font-size="17.5" stroke-width="0">/</text>
<text transform="translate(80.5 112.5) rotate(-90)" font-size="13" letter-spacing="0.9">PDF</text>
<text transform="translate(82.6 83.6) rotate(-90)" font-size="9.6" letter-spacing="-0.15">non−col</text>
</g>
<rect x="219.0" y="46.5" width="148.5" height="49.0" fill="#fff" stroke="#2a2a2a" stroke-width="1"/>
<circle cx="231.40" cy="55.20" r="2.9" stroke="#0070C4" stroke-width="1.4" fill="none"/>
<path d="M227.95 73.26L234.85 73.26L231.40 67.05Z" stroke="#DE4E12" stroke-width="1.3" fill="none" stroke-linejoin="round"/>
<path d="M227.95 84.54L234.85 84.54L231.40 90.75Z" stroke="#F0AB18" stroke-width="1.3" fill="none" stroke-linejoin="round"/>
<path d="M305.00 55.10H311.40M308.20 51.90V58.30M305.94 52.84L310.46 57.36M305.94 57.36L310.46 52.84" stroke="#80259A" stroke-width="1.25" fill="none"/>
<rect x="305.85" y="68.55" width="4.70" height="4.70" stroke="#6FAE22" stroke-width="1.4" fill="none" stroke-linejoin="round"/>
<g font-family="'Liberation Serif', 'Times New Roman', serif" font-size="13.2" fill="#111" stroke="#111" stroke-width="0.2">
<text x="243" y="59.3" font-style="italic" font-size="14" letter-spacing="0.3">St</text>
<text x="259.5" y="59.3" textLength="8.7" lengthAdjust="spacingAndGlyphs">=</text>
<text x="271.6" y="59.3" font-size="13.7" textLength="22.0" lengthAdjust="spacingAndGlyphs">0.01</text>
<text x="243" y="75.0" font-style="italic" font-size="14" letter-spacing="0.3">St</text>
<text x="259.5" y="75.0" textLength="8.7" lengthAdjust="spacingAndGlyphs">=</text>
<text x="271.6" y="75.0" font-size="13.7" textLength="15.8" lengthAdjust="spacingAndGlyphs">0.1</text>
<text x="243" y="91.0" font-style="italic" font-size="14" letter-spacing="0.3">St</text>
<text x="259.5" y="91.0" textLength="8.7" lengthAdjust="spacingAndGlyphs">=</text>
<text x="271.6" y="91.0" font-size="13.7" textLength="15.8" lengthAdjust="spacingAndGlyphs">0.5</text>
<text x="320" y="59.3" font-style="italic" font-size="14" letter-spacing="0.3">St</text>
<text x="336.5" y="59.3" textLength="8.7" lengthAdjust="spacingAndGlyphs">=</text>
<text x="348.6" y="59.3" font-size="13.7" textLength="15.8" lengthAdjust="spacingAndGlyphs">1.0</text>
<text x="320" y="75.0" font-style="italic" font-size="14" letter-spacing="0.3">St</text>
<text x="336.5" y="75.0" textLength="8.7" lengthAdjust="spacingAndGlyphs">=</text>
<text x="348.6" y="75.0" font-size="13.7" textLength="15.8" lengthAdjust="spacingAndGlyphs">2.0</text>
</g>
<rect x="198.8" y="100.4" width="168.0" height="93.69999999999999" fill="#fff" stroke="none"/>
<g id="inset"><path d="M223.5 184.5L300 113.5" stroke="#111" stroke-width="1.45" stroke-dasharray="7.2 4.4" fill="none"/><path d="M326.15 119L327.48 124.5M328.70 130L329.87 135.6M331.20 141.9L332.58 147.6M333.85 153.8L334.90 159.4M335.97 165.2L336.88 170.0M337.90 175.4L338.75 180.1M339.68 185.6L340.27 189.3" stroke="#111" stroke-width="1.5" fill="none"/><path d="M222.70 161.00L229.00 161.60L234.80 161.00L239.80 161.60L242.80 158.17L245.30 156.89L247.70 154.36L250.00 153.14L252.22 151.49L254.34 148.67L256.44 147.22L258.54 147.54L260.64 144.58L262.74 142.70L264.84 142.25L266.94 139.69L269.04 138.63L271.14 136.55L273.24 135.23L275.34 133.17L277.44 132.15L279.54 130.79L281.64 129.00L283.74 127.64L285.84 126.14L287.94 124.59L290.04 123.43L292.14 122.14L294.24 120.93L296.34 119.78L298.44 118.69L300.54 117.65L302.64 116.63L304.74 115.53L306.84 114.41L308.94 113.50L311.04 112.97L313.14 112.56L315.24 112.32L317.34 112.57L319.44 113.74L321.54 115.40L323.64 118.26L325.74 123.86L327.60 137.00L330.40 144.00L335.00 154.60" stroke="#0070C4" stroke-width="0.8" fill="none"/><circle cx="222.70" cy="161.00" r="2.75" stroke="#0070C4" stroke-width="0.9" fill="none"/><circle cx="229.00" cy="161.60" r="2.75" stroke="#0070C4" stroke-width="0.9" fill="none"/><circle cx="234.80" cy="161.00" r="2.75" stroke="#0070C4" stroke-width="0.9" fill="none"/><circle cx="239.80" cy="161.60" r="2.75" stroke="#0070C4" stroke-width="0.9" fill="none"/><circle cx="242.80" cy="158.17" r="2.75" stroke="#0070C4" stroke-width="0.9" fill="none"/><circle cx="245.30" cy="156.89" r="2.75" stroke="#0070C4" stroke-width="0.9" fill="none"/><circle cx="247.70" cy="154.36" r="2.75" stroke="#0070C4" stroke-width="0.9" fill="none"/><circle cx="250.00" cy="153.14" r="2.75" stroke="#0070C4" stroke-width="0.9" fill="none"/><circle cx="252.22" cy="151.49" r="2.75" stroke="#0070C4" stroke-width="0.9" fill="none"/><circle cx="254.34" cy="148.67" r="2.75" stroke="#0070C4" stroke-width="0.9" fill="none"/><circle cx="256.44" cy="147.22" r="2.75" stroke="#0070C4" stroke-width="0.9" fill="none"/><circle cx="258.54" cy="147.54" r="2.75" stroke="#0070C4" stroke-width="0.9" fill="none"/><circle cx="260.64" cy="144.58" r="2.75" stroke="#0070C4" stroke-width="0.9" fill="none"/><circle cx="262.74" cy="142.70" r="2.75" stroke="#0070C4" stroke-width="0.9" fill="none"/><circle cx="264.84" cy="142.25" r="2.75" stroke="#0070C4" stroke-width="0.9" fill="none"/><circle cx="266.94" cy="139.69" r="2.75" stroke="#0070C4" stroke-width="0.9" fill="none"/><circle cx="269.04" cy="138.63" r="2.75" stroke="#0070C4" stroke-width="0.9" fill="none"/><circle cx="271.14" cy="136.55" r="2.75" stroke="#0070C4" stroke-width="0.9" fill="none"/><circle cx="273.24" cy="135.23" r="2.75" stroke="#0070C4" stroke-width="0.9" fill="none"/><circle cx="275.34" cy="133.17" r="2.75" stroke="#0070C4" stroke-width="0.9" fill="none"/><circle cx="277.44" cy="132.15" r="2.75" stroke="#0070C4" stroke-width="0.9" fill="none"/><circle cx="279.54" cy="130.79" r="2.75" stroke="#0070C4" stroke-width="0.9" fill="none"/><circle cx="281.64" cy="129.00" r="2.75" stroke="#0070C4" stroke-width="0.9" fill="none"/><circle cx="283.74" cy="127.64" r="2.75" stroke="#0070C4" stroke-width="0.9" fill="none"/><circle cx="285.84" cy="126.14" r="2.75" stroke="#0070C4" stroke-width="0.9" fill="none"/><circle cx="287.94" cy="124.59" r="2.75" stroke="#0070C4" stroke-width="0.9" fill="none"/><circle cx="290.04" cy="123.43" r="2.75" stroke="#0070C4" stroke-width="0.9" fill="none"/><circle cx="292.14" cy="122.14" r="2.75" stroke="#0070C4" stroke-width="0.9" fill="none"/><circle cx="294.24" cy="120.93" r="2.75" stroke="#0070C4" stroke-width="0.9" fill="none"/><circle cx="296.34" cy="119.78" r="2.75" stroke="#0070C4" stroke-width="0.9" fill="none"/><circle cx="298.44" cy="118.69" r="2.75" stroke="#0070C4" stroke-width="0.9" fill="none"/><circle cx="300.54" cy="117.65" r="2.75" stroke="#0070C4" stroke-width="0.9" fill="none"/><circle cx="302.64" cy="116.63" r="2.75" stroke="#0070C4" stroke-width="0.9" fill="none"/><circle cx="304.74" cy="115.53" r="2.75" stroke="#0070C4" stroke-width="0.9" fill="none"/><circle cx="306.84" cy="114.41" r="2.75" stroke="#0070C4" stroke-width="0.9" fill="none"/><circle cx="308.94" cy="113.50" r="2.75" stroke="#0070C4" stroke-width="0.9" fill="none"/><circle cx="311.04" cy="112.97" r="2.75" stroke="#0070C4" stroke-width="0.9" fill="none"/><circle cx="313.14" cy="112.56" r="2.75" stroke="#0070C4" stroke-width="0.9" fill="none"/><circle cx="315.24" cy="112.32" r="2.75" stroke="#0070C4" stroke-width="0.9" fill="none"/><circle cx="317.34" cy="112.57" r="2.75" stroke="#0070C4" stroke-width="0.9" fill="none"/><circle cx="319.44" cy="113.74" r="2.75" stroke="#0070C4" stroke-width="0.9" fill="none"/><circle cx="321.54" cy="115.40" r="2.75" stroke="#0070C4" stroke-width="0.9" fill="none"/><circle cx="323.64" cy="118.26" r="2.75" stroke="#0070C4" stroke-width="0.9" fill="none"/><circle cx="325.74" cy="123.86" r="2.75" stroke="#0070C4" stroke-width="0.9" fill="none"/><circle cx="327.60" cy="137.00" r="2.75" stroke="#0070C4" stroke-width="0.9" fill="none"/><circle cx="330.40" cy="144.00" r="2.75" stroke="#0070C4" stroke-width="0.9" fill="none"/><circle cx="335.00" cy="154.60" r="2.75" stroke="#0070C4" stroke-width="0.9" fill="none"/><path d="M217.90 163.50L221.70 167.90L224.60 161.60L228.80 164.80L231.50 159.16L234.00 157.47L236.40 154.91L238.70 152.85L240.92 151.81L243.04 150.14L245.14 149.48L247.24 147.18L249.34 146.23L251.44 144.42L253.54 143.14L255.64 140.72L257.74 137.88L259.84 137.55L261.94 135.83L264.04 133.79L266.14 131.37L268.24 129.90L270.34 127.63L272.44 126.98L274.54 125.23L276.64 123.59L278.74 122.15L280.84 121.54L282.94 120.40L285.04 118.80L287.14 118.01L289.24 116.88L291.34 115.93L293.44 115.05L295.54 114.20L297.64 113.41L299.74 112.66L301.84 111.92L303.94 111.11L306.04 110.62L308.14 110.64L310.24 110.80L312.34 111.05L314.44 111.80L316.54 113.03L318.64 114.45L320.74 116.26L322.84 118.51L324.94 121.12L327.04 124.31L329.14 128.23L333.00 137.50L335.00 142.00L337.60 146.30L339.50 151.40L342.00 155.90L345.00 160.30L349.30 166.00" stroke="#DE4E12" stroke-width="0.8" fill="none"/><path d="M214.70 165.96L221.10 165.96L217.90 160.20Z" stroke="#DE4E12" stroke-width="0.9" fill="none" stroke-linejoin="round"/><path d="M218.50 170.36L224.90 170.36L221.70 164.60Z" stroke="#DE4E12" stroke-width="0.9" fill="none" stroke-linejoin="round"/><path d="M221.40 164.06L227.80 164.06L224.60 158.30Z" stroke="#DE4E12" stroke-width="0.9" fill="none" stroke-linejoin="round"/><path d="M225.60 167.26L232.00 167.26L228.80 161.50Z" stroke="#DE4E12" stroke-width="0.9" fill="none" stroke-linejoin="round"/><path d="M228.30 161.63L234.70 161.63L231.50 155.87Z" stroke="#DE4E12" stroke-width="0.9" fill="none" stroke-linejoin="round"/><path d="M230.80 159.93L237.20 159.93L234.00 154.17Z" stroke="#DE4E12" stroke-width="0.9" fill="none" stroke-linejoin="round"/><path d="M233.20 157.38L239.60 157.38L236.40 151.62Z" stroke="#DE4E12" stroke-width="0.9" fill="none" stroke-linejoin="round"/><path d="M235.50 155.31L241.90 155.31L238.70 149.55Z" stroke="#DE4E12" stroke-width="0.9" fill="none" stroke-linejoin="round"/><path d="M237.72 154.27L244.12 154.27L240.92 148.51Z" stroke="#DE4E12" stroke-width="0.9" fill="none" stroke-linejoin="round"/><path d="M239.84 152.61L246.24 152.61L243.04 146.85Z" stroke="#DE4E12" stroke-width="0.9" fill="none" stroke-linejoin="round"/><path d="M241.94 151.94L248.34 151.94L245.14 146.18Z" stroke="#DE4E12" stroke-width="0.9" fill="none" stroke-linejoin="round"/><path d="M244.04 149.65L250.44 149.65L247.24 143.89Z" stroke="#DE4E12" stroke-width="0.9" fill="none" stroke-linejoin="round"/><path d="M246.14 148.69L252.54 148.69L249.34 142.93Z" stroke="#DE4E12" stroke-width="0.9" fill="none" stroke-linejoin="round"/><path d="M248.24 146.88L254.64 146.88L251.44 141.12Z" stroke="#DE4E12" stroke-width="0.9" fill="none" stroke-linejoin="round"/><path d="M250.34 145.60L256.74 145.60L253.54 139.84Z" stroke="#DE4E12" stroke-width="0.9" fill="none" stroke-linejoin="round"/><path d="M252.44 143.18L258.84 143.18L255.64 137.42Z" stroke="#DE4E12" stroke-width="0.9" fill="none" stroke-linejoin="round"/><path d="M254.54 140.34L260.94 140.34L257.74 134.58Z" stroke="#DE4E12" stroke-width="0.9" fill="none" stroke-linejoin="round"/><path d="M256.64 140.01L263.04 140.01L259.84 134.25Z" stroke="#DE4E12" stroke-width="0.9" fill="none" stroke-linejoin="round"/><path d="M258.74 138.29L265.14 138.29L261.94 132.53Z" stroke="#DE4E12" stroke-width="0.9" fill="none" stroke-linejoin="round"/><path d="M260.84 136.26L267.24 136.26L264.04 130.50Z" stroke="#DE4E12" stroke-width="0.9" fill="none" stroke-linejoin="round"/><path d="M262.94 133.84L269.34 133.84L266.14 128.08Z" stroke="#DE4E12" stroke-width="0.9" fill="none" stroke-linejoin="round"/><path d="M265.04 132.36L271.44 132.36L268.24 126.60Z" stroke="#DE4E12" stroke-width="0.9" fill="none" stroke-linejoin="round"/><path d="M267.14 130.09L273.54 130.09L270.34 124.33Z" stroke="#DE4E12" stroke-width="0.9" fill="none" stroke-linejoin="round"/><path d="M269.24 129.44L275.64 129.44L272.44 123.68Z" stroke="#DE4E12" stroke-width="0.9" fill="none" stroke-linejoin="round"/><path d="M271.34 127.70L277.74 127.70L274.54 121.94Z" stroke="#DE4E12" stroke-width="0.9" fill="none" stroke-linejoin="round"/><path d="M273.44 126.06L279.84 126.06L276.64 120.30Z" stroke="#DE4E12" stroke-width="0.9" fill="none" stroke-linejoin="round"/><path d="M275.54 124.61L281.94 124.61L278.74 118.85Z" stroke="#DE4E12" stroke-width="0.9" fill="none" stroke-linejoin="round"/><path d="M277.64 124.00L284.04 124.00L280.84 118.24Z" stroke="#DE4E12" stroke-width="0.9" fill="none" stroke-linejoin="round"/><path d="M279.74 122.86L286.14 122.86L282.94 117.10Z" stroke="#DE4E12" stroke-width="0.9" fill="none" stroke-linejoin="round"/><path d="M281.84 121.27L288.24 121.27L285.04 115.51Z" stroke="#DE4E12" stroke-width="0.9" fill="none" stroke-linejoin="round"/><path d="M283.94 120.47L290.34 120.47L287.14 114.71Z" stroke="#DE4E12" stroke-width="0.9" fill="none" stroke-linejoin="round"/><path d="M286.04 119.35L292.44 119.35L289.24 113.59Z" stroke="#DE4E12" stroke-width="0.9" fill="none" stroke-linejoin="round"/><path d="M288.14 118.39L294.54 118.39L291.34 112.63Z" stroke="#DE4E12" stroke-width="0.9" fill="none" stroke-linejoin="round"/><path d="M290.24 117.51L296.64 117.51L293.44 111.75Z" stroke="#DE4E12" stroke-width="0.9" fill="none" stroke-linejoin="round"/><path d="M292.34 116.67L298.74 116.67L295.54 110.91Z" stroke="#DE4E12" stroke-width="0.9" fill="none" stroke-linejoin="round"/><path d="M294.44 115.87L300.84 115.87L297.64 110.11Z" stroke="#DE4E12" stroke-width="0.9" fill="none" stroke-linejoin="round"/><path d="M296.54 115.12L302.94 115.12L299.74 109.36Z" stroke="#DE4E12" stroke-width="0.9" fill="none" stroke-linejoin="round"/><path d="M298.64 114.38L305.04 114.38L301.84 108.62Z" stroke="#DE4E12" stroke-width="0.9" fill="none" stroke-linejoin="round"/><path d="M300.74 113.57L307.14 113.57L303.94 107.81Z" stroke="#DE4E12" stroke-width="0.9" fill="none" stroke-linejoin="round"/><path d="M302.84 113.08L309.24 113.08L306.04 107.32Z" stroke="#DE4E12" stroke-width="0.9" fill="none" stroke-linejoin="round"/><path d="M304.94 113.11L311.34 113.11L308.14 107.35Z" stroke="#DE4E12" stroke-width="0.9" fill="none" stroke-linejoin="round"/><path d="M307.04 113.27L313.44 113.27L310.24 107.51Z" stroke="#DE4E12" stroke-width="0.9" fill="none" stroke-linejoin="round"/><path d="M309.14 113.52L315.54 113.52L312.34 107.76Z" stroke="#DE4E12" stroke-width="0.9" fill="none" stroke-linejoin="round"/><path d="M311.24 114.26L317.64 114.26L314.44 108.50Z" stroke="#DE4E12" stroke-width="0.9" fill="none" stroke-linejoin="round"/><path d="M313.34 115.49L319.74 115.49L316.54 109.73Z" stroke="#DE4E12" stroke-width="0.9" fill="none" stroke-linejoin="round"/><path d="M315.44 116.92L321.84 116.92L318.64 111.16Z" stroke="#DE4E12" stroke-width="0.9" fill="none" stroke-linejoin="round"/><path d="M317.54 118.73L323.94 118.73L320.74 112.97Z" stroke="#DE4E12" stroke-width="0.9" fill="none" stroke-linejoin="round"/><path d="M319.64 120.98L326.04 120.98L322.84 115.22Z" stroke="#DE4E12" stroke-width="0.9" fill="none" stroke-linejoin="round"/><path d="M321.74 123.58L328.14 123.58L324.94 117.82Z" stroke="#DE4E12" stroke-width="0.9" fill="none" stroke-linejoin="round"/><path d="M323.84 126.77L330.24 126.77L327.04 121.01Z" stroke="#DE4E12" stroke-width="0.9" fill="none" stroke-linejoin="round"/><path d="M325.94 130.70L332.34 130.70L329.14 124.94Z" stroke="#DE4E12" stroke-width="0.9" fill="none" stroke-linejoin="round"/><path d="M329.80 139.96L336.20 139.96L333.00 134.20Z" stroke="#DE4E12" stroke-width="0.9" fill="none" stroke-linejoin="round"/><path d="M331.80 144.46L338.20 144.46L335.00 138.70Z" stroke="#DE4E12" stroke-width="0.9" fill="none" stroke-linejoin="round"/><path d="M334.40 148.76L340.80 148.76L337.60 143.00Z" stroke="#DE4E12" stroke-width="0.9" fill="none" stroke-linejoin="round"/><path d="M336.30 153.86L342.70 153.86L339.50 148.10Z" stroke="#DE4E12" stroke-width="0.9" fill="none" stroke-linejoin="round"/><path d="M338.80 158.36L345.20 158.36L342.00 152.60Z" stroke="#DE4E12" stroke-width="0.9" fill="none" stroke-linejoin="round"/><path d="M341.80 162.76L348.20 162.76L345.00 157.00Z" stroke="#DE4E12" stroke-width="0.9" fill="none" stroke-linejoin="round"/><path d="M346.10 168.46L352.50 168.46L349.30 162.70Z" stroke="#DE4E12" stroke-width="0.9" fill="none" stroke-linejoin="round"/><path d="M206.30 143.30L218.50 136.00L223.20 134.12L227.71 132.09L232.04 129.60L236.20 127.39L240.19 125.44L244.03 123.49L247.70 121.57L251.24 119.98L254.63 118.90L257.88 118.05L261.01 117.10L264.01 116.02L266.89 114.98L269.65 114.01L272.30 113.03L274.85 112.19L277.35 111.61L279.85 111.30L282.35 111.04L284.85 110.83L287.35 110.68L289.85 110.61L292.35 110.68L294.85 111.06L297.30 111.63L299.80 112.25L302.30 112.92L304.80 113.75L307.30 114.73L309.80 115.93L312.30 117.26L314.80 118.66L317.30 120.06L319.80 121.47L322.30 122.95L324.80 124.54L327.30 126.30L329.80 128.33L332.30 130.75L334.80 133.30L337.30 135.87L339.80 138.52L342.30 141.11L344.80 143.52L347.30 146.03L349.80 149.07L352.30 152.99L354.80 156.80L357.30 160.23L359.80 163.62L362.30 167.00" stroke="#F0AB18" stroke-width="0.9" fill="none"/><path d="M203.10 140.84L209.50 140.84L206.30 146.60Z" stroke="#F0AB18" stroke-width="0.9" fill="none" stroke-linejoin="round"/><path d="M215.30 133.54L221.70 133.54L218.50 139.30Z" stroke="#F0AB18" stroke-width="0.9" fill="none" stroke-linejoin="round"/><path d="M220.00 131.65L226.40 131.65L223.20 137.41Z" stroke="#F0AB18" stroke-width="0.9" fill="none" stroke-linejoin="round"/><path d="M224.51 129.62L230.91 129.62L227.71 135.38Z" stroke="#F0AB18" stroke-width="0.9" fill="none" stroke-linejoin="round"/><path d="M228.84 127.14L235.24 127.14L232.04 132.90Z" stroke="#F0AB18" stroke-width="0.9" fill="none" stroke-linejoin="round"/><path d="M233.00 124.92L239.40 124.92L236.20 130.68Z" stroke="#F0AB18" stroke-width="0.9" fill="none" stroke-linejoin="round"/><path d="M236.99 122.98L243.39 122.98L240.19 128.74Z" stroke="#F0AB18" stroke-width="0.9" fill="none" stroke-linejoin="round"/><path d="M240.83 121.03L247.23 121.03L244.03 126.79Z" stroke="#F0AB18" stroke-width="0.9" fill="none" stroke-linejoin="round"/><path d="M244.50 119.11L250.90 119.11L247.70 124.87Z" stroke="#F0AB18" stroke-width="0.9" fill="none" stroke-linejoin="round"/><path d="M248.04 117.52L254.44 117.52L251.24 123.28Z" stroke="#F0AB18" stroke-width="0.9" fill="none" stroke-linejoin="round"/><path d="M251.43 116.43L257.83 116.43L254.63 122.19Z" stroke="#F0AB18" stroke-width="0.9" fill="none" stroke-linejoin="round"/><path d="M254.68 115.59L261.08 115.59L257.88 121.35Z" stroke="#F0AB18" stroke-width="0.9" fill="none" stroke-linejoin="round"/><path d="M257.81 114.64L264.21 114.64L261.01 120.40Z" stroke="#F0AB18" stroke-width="0.9" fill="none" stroke-linejoin="round"/><path d="M260.81 113.56L267.21 113.56L264.01 119.32Z" stroke="#F0AB18" stroke-width="0.9" fill="none" stroke-linejoin="round"/><path d="M263.69 112.51L270.09 112.51L266.89 118.27Z" stroke="#F0AB18" stroke-width="0.9" fill="none" stroke-linejoin="round"/><path d="M266.45 111.55L272.85 111.55L269.65 117.31Z" stroke="#F0AB18" stroke-width="0.9" fill="none" stroke-linejoin="round"/><path d="M269.10 110.57L275.50 110.57L272.30 116.33Z" stroke="#F0AB18" stroke-width="0.9" fill="none" stroke-linejoin="round"/><path d="M271.65 109.73L278.05 109.73L274.85 115.49Z" stroke="#F0AB18" stroke-width="0.9" fill="none" stroke-linejoin="round"/><path d="M274.15 109.14L280.55 109.14L277.35 114.90Z" stroke="#F0AB18" stroke-width="0.9" fill="none" stroke-linejoin="round"/><path d="M276.65 108.84L283.05 108.84L279.85 114.60Z" stroke="#F0AB18" stroke-width="0.9" fill="none" stroke-linejoin="round"/><path d="M279.15 108.58L285.55 108.58L282.35 114.34Z" stroke="#F0AB18" stroke-width="0.9" fill="none" stroke-linejoin="round"/><path d="M281.65 108.37L288.05 108.37L284.85 114.13Z" stroke="#F0AB18" stroke-width="0.9" fill="none" stroke-linejoin="round"/><path d="M284.15 108.22L290.55 108.22L287.35 113.98Z" stroke="#F0AB18" stroke-width="0.9" fill="none" stroke-linejoin="round"/><path d="M286.65 108.14L293.05 108.14L289.85 113.90Z" stroke="#F0AB18" stroke-width="0.9" fill="none" stroke-linejoin="round"/><path d="M289.15 108.21L295.55 108.21L292.35 113.97Z" stroke="#F0AB18" stroke-width="0.9" fill="none" stroke-linejoin="round"/><path d="M291.65 108.60L298.05 108.60L294.85 114.36Z" stroke="#F0AB18" stroke-width="0.9" fill="none" stroke-linejoin="round"/><path d="M294.10 109.16L300.50 109.16L297.30 114.92Z" stroke="#F0AB18" stroke-width="0.9" fill="none" stroke-linejoin="round"/><path d="M296.60 109.79L303.00 109.79L299.80 115.55Z" stroke="#F0AB18" stroke-width="0.9" fill="none" stroke-linejoin="round"/><path d="M299.10 110.46L305.50 110.46L302.30 116.22Z" stroke="#F0AB18" stroke-width="0.9" fill="none" stroke-linejoin="round"/><path d="M301.60 111.29L308.00 111.29L304.80 117.05Z" stroke="#F0AB18" stroke-width="0.9" fill="none" stroke-linejoin="round"/><path d="M304.10 112.27L310.50 112.27L307.30 118.03Z" stroke="#F0AB18" stroke-width="0.9" fill="none" stroke-linejoin="round"/><path d="M306.60 113.46L313.00 113.46L309.80 119.22Z" stroke="#F0AB18" stroke-width="0.9" fill="none" stroke-linejoin="round"/><path d="M309.10 114.80L315.50 114.80L312.30 120.56Z" stroke="#F0AB18" stroke-width="0.9" fill="none" stroke-linejoin="round"/><path d="M311.60 116.20L318.00 116.20L314.80 121.96Z" stroke="#F0AB18" stroke-width="0.9" fill="none" stroke-linejoin="round"/><path d="M314.10 117.59L320.50 117.59L317.30 123.35Z" stroke="#F0AB18" stroke-width="0.9" fill="none" stroke-linejoin="round"/><path d="M316.60 119.01L323.00 119.01L319.80 124.77Z" stroke="#F0AB18" stroke-width="0.9" fill="none" stroke-linejoin="round"/><path d="M319.10 120.48L325.50 120.48L322.30 126.24Z" stroke="#F0AB18" stroke-width="0.9" fill="none" stroke-linejoin="round"/><path d="M321.60 122.08L328.00 122.08L324.80 127.84Z" stroke="#F0AB18" stroke-width="0.9" fill="none" stroke-linejoin="round"/><path d="M324.10 123.83L330.50 123.83L327.30 129.59Z" stroke="#F0AB18" stroke-width="0.9" fill="none" stroke-linejoin="round"/><path d="M326.60 125.87L333.00 125.87L329.80 131.63Z" stroke="#F0AB18" stroke-width="0.9" fill="none" stroke-linejoin="round"/><path d="M329.10 128.29L335.50 128.29L332.30 134.05Z" stroke="#F0AB18" stroke-width="0.9" fill="none" stroke-linejoin="round"/><path d="M331.60 130.84L338.00 130.84L334.80 136.60Z" stroke="#F0AB18" stroke-width="0.9" fill="none" stroke-linejoin="round"/><path d="M334.10 133.41L340.50 133.41L337.30 139.17Z" stroke="#F0AB18" stroke-width="0.9" fill="none" stroke-linejoin="round"/><path d="M336.60 136.06L343.00 136.06L339.80 141.82Z" stroke="#F0AB18" stroke-width="0.9" fill="none" stroke-linejoin="round"/><path d="M339.10 138.65L345.50 138.65L342.30 144.41Z" stroke="#F0AB18" stroke-width="0.9" fill="none" stroke-linejoin="round"/><path d="M341.60 141.05L348.00 141.05L344.80 146.81Z" stroke="#F0AB18" stroke-width="0.9" fill="none" stroke-linejoin="round"/><path d="M344.10 143.57L350.50 143.57L347.30 149.33Z" stroke="#F0AB18" stroke-width="0.9" fill="none" stroke-linejoin="round"/><path d="M346.60 146.61L353.00 146.61L349.80 152.37Z" stroke="#F0AB18" stroke-width="0.9" fill="none" stroke-linejoin="round"/><path d="M349.10 150.53L355.50 150.53L352.30 156.29Z" stroke="#F0AB18" stroke-width="0.9" fill="none" stroke-linejoin="round"/><path d="M351.60 154.34L358.00 154.34L354.80 160.10Z" stroke="#F0AB18" stroke-width="0.9" fill="none" stroke-linejoin="round"/><path d="M354.10 157.77L360.50 157.77L357.30 163.53Z" stroke="#F0AB18" stroke-width="0.9" fill="none" stroke-linejoin="round"/><path d="M356.60 161.15L363.00 161.15L359.80 166.91Z" stroke="#F0AB18" stroke-width="0.9" fill="none" stroke-linejoin="round"/><path d="M359.10 164.54L365.50 164.54L362.30 170.30Z" stroke="#F0AB18" stroke-width="0.9" fill="none" stroke-linejoin="round"/><path d="M206.40 134.00L220.70 127.20L227.40 124.35L233.50 120.20L239.36 116.94L244.98 114.50L250.37 112.54L255.56 110.83L260.53 109.31L265.30 108.31L269.89 107.74L274.29 107.33L278.51 107.20L282.57 107.47L286.46 108.03L290.20 108.69L293.79 109.48L297.30 110.58L299.80 111.48L302.30 112.44L304.80 113.48L307.30 114.65L309.80 115.93L312.30 117.28L314.80 118.67L317.30 120.06L319.80 121.47L322.30 122.95L324.80 124.54L327.30 126.30L329.80 128.33L332.30 130.75L334.80 133.30L337.30 135.87L339.80 138.52L342.30 141.11L344.80 143.52L347.30 146.03L349.80 149.07L352.30 152.99L354.80 156.80L357.30 160.23L359.80 163.62L362.30 167.00" stroke="#80259A" stroke-width="0.9" fill="none"/><path d="M203.50 134.00H209.30M206.40 131.10V136.90M204.35 131.95L208.45 136.05M204.35 136.05L208.45 131.95" stroke="#80259A" stroke-width="0.765" fill="none"/><path d="M217.80 127.20H223.60M220.70 124.30V130.10M218.65 125.15L222.75 129.25M218.65 129.25L222.75 125.15" stroke="#80259A" stroke-width="0.765" fill="none"/><path d="M224.50 124.35H230.30M227.40 121.45V127.25M225.35 122.30L229.45 126.40M225.35 126.40L229.45 122.30" stroke="#80259A" stroke-width="0.765" fill="none"/><path d="M230.60 120.20H236.40M233.50 117.30V123.10M231.45 118.15L235.55 122.25M231.45 122.25L235.55 118.15" stroke="#80259A" stroke-width="0.765" fill="none"/><path d="M236.46 116.94H242.26M239.36 114.04V119.84M237.31 114.89L241.41 118.99M237.31 118.99L241.41 114.89" stroke="#80259A" stroke-width="0.765" fill="none"/><path d="M242.08 114.50H247.88M244.98 111.60V117.40M242.93 112.45L247.03 116.55M242.93 116.55L247.03 112.45" stroke="#80259A" stroke-width="0.765" fill="none"/><path d="M247.47 112.54H253.27M250.37 109.64V115.44M248.32 110.48L252.43 114.59M248.32 114.59L252.43 110.48" stroke="#80259A" stroke-width="0.765" fill="none"/><path d="M252.66 110.83H258.46M255.56 107.93V113.73M253.51 108.78L257.61 112.88M253.51 112.88L257.61 108.78" stroke="#80259A" stroke-width="0.765" fill="none"/><path d="M257.63 109.31H263.43M260.53 106.41V112.21M258.48 107.26L262.58 111.36M258.48 111.36L262.58 107.26" stroke="#80259A" stroke-width="0.765" fill="none"/><path d="M262.40 108.31H268.20M265.30 105.41V111.21M263.25 106.26L267.35 110.36M263.25 110.36L267.35 106.26" stroke="#80259A" stroke-width="0.765" fill="none"/><path d="M266.99 107.74H272.79M269.89 104.84V110.64M267.84 105.69L271.94 109.79M267.84 109.79L271.94 105.69" stroke="#80259A" stroke-width="0.765" fill="none"/><path d="M271.39 107.33H277.19M274.29 104.43V110.23M272.24 105.28L276.34 109.38M272.24 109.38L276.34 105.28" stroke="#80259A" stroke-width="0.765" fill="none"/><path d="M275.61 107.20H281.41M278.51 104.30V110.10M276.46 105.15L280.56 109.25M276.46 109.25L280.56 105.15" stroke="#80259A" stroke-width="0.765" fill="none"/><path d="M279.67 107.47H285.47M282.57 104.57V110.37M280.52 105.42L284.62 109.52M280.52 109.52L284.62 105.42" stroke="#80259A" stroke-width="0.765" fill="none"/><path d="M283.56 108.03H289.36M286.46 105.13V110.93M284.41 105.98L288.51 110.08M284.41 110.08L288.51 105.98" stroke="#80259A" stroke-width="0.765" fill="none"/><path d="M287.30 108.69H293.10M290.20 105.79V111.59M288.15 106.64L292.25 110.74M288.15 110.74L292.25 106.64" stroke="#80259A" stroke-width="0.765" fill="none"/><path d="M290.89 109.48H296.69M293.79 106.58V112.38M291.74 107.43L295.84 111.53M291.74 111.53L295.84 107.43" stroke="#80259A" stroke-width="0.765" fill="none"/><path d="M294.40 110.58H300.20M297.30 107.68V113.48M295.25 108.53L299.35 112.63M295.25 112.63L299.35 108.53" stroke="#80259A" stroke-width="0.765" fill="none"/><path d="M296.90 111.48H302.70M299.80 108.58V114.38M297.75 109.43L301.85 113.53M297.75 113.53L301.85 109.43" stroke="#80259A" stroke-width="0.765" fill="none"/><path d="M299.40 112.44H305.20M302.30 109.54V115.34M300.25 110.39L304.35 114.49M300.25 114.49L304.35 110.39" stroke="#80259A" stroke-width="0.765" fill="none"/><path d="M301.90 113.48H307.70M304.80 110.58V116.38M302.75 111.43L306.85 115.53M302.75 115.53L306.85 111.43" stroke="#80259A" stroke-width="0.765" fill="none"/><path d="M304.40 114.65H310.20M307.30 111.75V117.55M305.25 112.60L309.35 116.70M305.25 116.70L309.35 112.60" stroke="#80259A" stroke-width="0.765" fill="none"/><path d="M306.90 115.93H312.70M309.80 113.03V118.83M307.75 113.88L311.85 117.98M307.75 117.98L311.85 113.88" stroke="#80259A" stroke-width="0.765" fill="none"/><path d="M309.40 117.28H315.20M312.30 114.38V120.18M310.25 115.23L314.35 119.33M310.25 119.33L314.35 115.23" stroke="#80259A" stroke-width="0.765" fill="none"/><path d="M311.90 118.67H317.70M314.80 115.77V121.57M312.75 116.62L316.85 120.72M312.75 120.72L316.85 116.62" stroke="#80259A" stroke-width="0.765" fill="none"/><path d="M314.40 120.06H320.20M317.30 117.16V122.96M315.25 118.01L319.35 122.11M315.25 122.11L319.35 118.01" stroke="#80259A" stroke-width="0.765" fill="none"/><path d="M316.90 121.47H322.70M319.80 118.57V124.37M317.75 119.42L321.85 123.52M317.75 123.52L321.85 119.42" stroke="#80259A" stroke-width="0.765" fill="none"/><path d="M319.40 122.95H325.20M322.30 120.05V125.85M320.25 120.89L324.35 125.00M320.25 125.00L324.35 120.89" stroke="#80259A" stroke-width="0.765" fill="none"/><path d="M321.90 124.54H327.70M324.80 121.64V127.44M322.75 122.49L326.85 126.59M322.75 126.59L326.85 122.49" stroke="#80259A" stroke-width="0.765" fill="none"/><path d="M324.40 126.30H330.20M327.30 123.40V129.20M325.25 124.24L329.35 128.35M325.25 128.35L329.35 124.24" stroke="#80259A" stroke-width="0.765" fill="none"/><path d="M326.90 128.33H332.70M329.80 125.43V131.23M327.75 126.28L331.85 130.38M327.75 130.38L331.85 126.28" stroke="#80259A" stroke-width="0.765" fill="none"/><path d="M329.40 130.75H335.20M332.30 127.85V133.65M330.25 128.70L334.35 132.80M330.25 132.80L334.35 128.70" stroke="#80259A" stroke-width="0.765" fill="none"/><path d="M331.90 133.30H337.70M334.80 130.40V136.20M332.75 131.25L336.85 135.35M332.75 135.35L336.85 131.25" stroke="#80259A" stroke-width="0.765" fill="none"/><path d="M334.40 135.87H340.20M337.30 132.97V138.77M335.25 133.82L339.35 137.92M335.25 137.92L339.35 133.82" stroke="#80259A" stroke-width="0.765" fill="none"/><path d="M336.90 138.52H342.70M339.80 135.62V141.42M337.75 136.47L341.85 140.57M337.75 140.57L341.85 136.47" stroke="#80259A" stroke-width="0.765" fill="none"/><path d="M339.40 141.11H345.20M342.30 138.21V144.01M340.25 139.06L344.35 143.16M340.25 143.16L344.35 139.06" stroke="#80259A" stroke-width="0.765" fill="none"/><path d="M341.90 143.52H347.70M344.80 140.62V146.42M342.75 141.47L346.85 145.57M342.75 145.57L346.85 141.47" stroke="#80259A" stroke-width="0.765" fill="none"/><path d="M344.40 146.03H350.20M347.30 143.13V148.93M345.25 143.98L349.35 148.09M345.25 148.09L349.35 143.98" stroke="#80259A" stroke-width="0.765" fill="none"/><path d="M346.90 149.07H352.70M349.80 146.17V151.97M347.75 147.02L351.85 151.12M347.75 151.12L351.85 147.02" stroke="#80259A" stroke-width="0.765" fill="none"/><path d="M349.40 152.99H355.20M352.30 150.09V155.89M350.25 150.94L354.35 155.04M350.25 155.04L354.35 150.94" stroke="#80259A" stroke-width="0.765" fill="none"/><path d="M351.90 156.80H357.70M354.80 153.90V159.70M352.75 154.75L356.85 158.85M352.75 158.85L356.85 154.75" stroke="#80259A" stroke-width="0.765" fill="none"/><path d="M354.40 160.23H360.20M357.30 157.33V163.13M355.25 158.18L359.35 162.28M355.25 162.28L359.35 158.18" stroke="#80259A" stroke-width="0.765" fill="none"/><path d="M356.90 163.62H362.70M359.80 160.72V166.52M357.75 161.57L361.85 165.67M357.75 165.67L361.85 161.57" stroke="#80259A" stroke-width="0.765" fill="none"/><path d="M359.40 167.00H365.20M362.30 164.10V169.90M360.25 164.95L364.35 169.05M360.25 169.05L364.35 164.95" stroke="#80259A" stroke-width="0.765" fill="none"/><path d="M207.10 140.80L219.50 134.00L223.90 131.73L228.12 129.54L232.18 127.34L236.07 125.13L239.81 122.82L243.40 120.63L246.84 118.82L250.15 117.26L253.32 116.00L256.37 114.93L259.29 113.98L262.10 113.14L264.80 112.38L267.39 111.68L269.89 110.99L272.39 110.29L274.89 109.67L277.39 109.26L279.89 109.08L282.39 108.95L284.89 108.85L287.39 108.80L289.89 108.93L292.39 109.38L294.89 110.01L297.30 110.67L299.80 111.59L302.30 112.63L304.80 113.70L307.30 114.85L309.80 116.07L312.30 117.34L314.80 118.67L317.30 120.04L319.80 121.45L322.30 122.93L324.80 124.53L327.30 126.29L329.80 128.33L332.30 130.75L334.80 133.30L337.30 135.87L339.80 138.52L342.30 141.11L344.80 143.52L347.30 146.03L349.80 149.07L352.30 152.99L354.80 156.80L357.30 160.23L359.80 163.62L362.30 167.00" stroke="#6FAE22" stroke-width="0.9" fill="none"/><rect x="204.70" y="138.40" width="4.80" height="4.80" stroke="#6FAE22" stroke-width="0.9" fill="none" stroke-linejoin="round"/><rect x="217.10" y="131.60" width="4.80" height="4.80" stroke="#6FAE22" stroke-width="0.9" fill="none" stroke-linejoin="round"/><rect x="221.50" y="129.33" width="4.80" height="4.80" stroke="#6FAE22" stroke-width="0.9" fill="none" stroke-linejoin="round"/><rect x="225.72" y="127.14" width="4.80" height="4.80" stroke="#6FAE22" stroke-width="0.9" fill="none" stroke-linejoin="round"/><rect x="229.78" y="124.94" width="4.80" height="4.80" stroke="#6FAE22" stroke-width="0.9" fill="none" stroke-linejoin="round"/><rect x="233.67" y="122.73" width="4.80" height="4.80" stroke="#6FAE22" stroke-width="0.9" fill="none" stroke-linejoin="round"/><rect x="237.41" y="120.42" width="4.80" height="4.80" stroke="#6FAE22" stroke-width="0.9" fill="none" stroke-linejoin="round"/><rect x="241.00" y="118.23" width="4.80" height="4.80" stroke="#6FAE22" stroke-width="0.9" fill="none" stroke-linejoin="round"/><rect x="244.44" y="116.42" width="4.80" height="4.80" stroke="#6FAE22" stroke-width="0.9" fill="none" stroke-linejoin="round"/><rect x="247.75" y="114.86" width="4.80" height="4.80" stroke="#6FAE22" stroke-width="0.9" fill="none" stroke-linejoin="round"/><rect x="250.92" y="113.60" width="4.80" height="4.80" stroke="#6FAE22" stroke-width="0.9" fill="none" stroke-linejoin="round"/><rect x="253.97" y="112.53" width="4.80" height="4.80" stroke="#6FAE22" stroke-width="0.9" fill="none" stroke-linejoin="round"/><rect x="256.89" y="111.58" width="4.80" height="4.80" stroke="#6FAE22" stroke-width="0.9" fill="none" stroke-linejoin="round"/><rect x="259.70" y="110.74" width="4.80" height="4.80" stroke="#6FAE22" stroke-width="0.9" fill="none" stroke-linejoin="round"/><rect x="262.40" y="109.98" width="4.80" height="4.80" stroke="#6FAE22" stroke-width="0.9" fill="none" stroke-linejoin="round"/><rect x="264.99" y="109.28" width="4.80" height="4.80" stroke="#6FAE22" stroke-width="0.9" fill="none" stroke-linejoin="round"/><rect x="267.49" y="108.59" width="4.80" height="4.80" stroke="#6FAE22" stroke-width="0.9" fill="none" stroke-linejoin="round"/><rect x="269.99" y="107.89" width="4.80" height="4.80" stroke="#6FAE22" stroke-width="0.9" fill="none" stroke-linejoin="round"/><rect x="272.49" y="107.27" width="4.80" height="4.80" stroke="#6FAE22" stroke-width="0.9" fill="none" stroke-linejoin="round"/><rect x="274.99" y="106.86" width="4.80" height="4.80" stroke="#6FAE22" stroke-width="0.9" fill="none" stroke-linejoin="round"/><rect x="277.49" y="106.68" width="4.80" height="4.80" stroke="#6FAE22" stroke-width="0.9" fill="none" stroke-linejoin="round"/><rect x="279.99" y="106.55" width="4.80" height="4.80" stroke="#6FAE22" stroke-width="0.9" fill="none" stroke-linejoin="round"/><rect x="282.49" y="106.45" width="4.80" height="4.80" stroke="#6FAE22" stroke-width="0.9" fill="none" stroke-linejoin="round"/><rect x="284.99" y="106.40" width="4.80" height="4.80" stroke="#6FAE22" stroke-width="0.9" fill="none" stroke-linejoin="round"/><rect x="287.49" y="106.53" width="4.80" height="4.80" stroke="#6FAE22" stroke-width="0.9" fill="none" stroke-linejoin="round"/><rect x="289.99" y="106.98" width="4.80" height="4.80" stroke="#6FAE22" stroke-width="0.9" fill="none" stroke-linejoin="round"/><rect x="292.49" y="107.61" width="4.80" height="4.80" stroke="#6FAE22" stroke-width="0.9" fill="none" stroke-linejoin="round"/><rect x="294.90" y="108.27" width="4.80" height="4.80" stroke="#6FAE22" stroke-width="0.9" fill="none" stroke-linejoin="round"/><rect x="297.40" y="109.19" width="4.80" height="4.80" stroke="#6FAE22" stroke-width="0.9" fill="none" stroke-linejoin="round"/><rect x="299.90" y="110.23" width="4.80" height="4.80" stroke="#6FAE22" stroke-width="0.9" fill="none" stroke-linejoin="round"/><rect x="302.40" y="111.30" width="4.80" height="4.80" stroke="#6FAE22" stroke-width="0.9" fill="none" stroke-linejoin="round"/><rect x="304.90" y="112.45" width="4.80" height="4.80" stroke="#6FAE22" stroke-width="0.9" fill="none" stroke-linejoin="round"/><rect x="307.40" y="113.67" width="4.80" height="4.80" stroke="#6FAE22" stroke-width="0.9" fill="none" stroke-linejoin="round"/><rect x="309.90" y="114.94" width="4.80" height="4.80" stroke="#6FAE22" stroke-width="0.9" fill="none" stroke-linejoin="round"/><rect x="312.40" y="116.27" width="4.80" height="4.80" stroke="#6FAE22" stroke-width="0.9" fill="none" stroke-linejoin="round"/><rect x="314.90" y="117.64" width="4.80" height="4.80" stroke="#6FAE22" stroke-width="0.9" fill="none" stroke-linejoin="round"/><rect x="317.40" y="119.05" width="4.80" height="4.80" stroke="#6FAE22" stroke-width="0.9" fill="none" stroke-linejoin="round"/><rect x="319.90" y="120.53" width="4.80" height="4.80" stroke="#6FAE22" stroke-width="0.9" fill="none" stroke-linejoin="round"/><rect x="322.40" y="122.13" width="4.80" height="4.80" stroke="#6FAE22" stroke-width="0.9" fill="none" stroke-linejoin="round"/><rect x="324.90" y="123.89" width="4.80" height="4.80" stroke="#6FAE22" stroke-width="0.9" fill="none" stroke-linejoin="round"/><rect x="327.40" y="125.93" width="4.80" height="4.80" stroke="#6FAE22" stroke-width="0.9" fill="none" stroke-linejoin="round"/><rect x="329.90" y="128.35" width="4.80" height="4.80" stroke="#6FAE22" stroke-width="0.9" fill="none" stroke-linejoin="round"/><rect x="332.40" y="130.90" width="4.80" height="4.80" stroke="#6FAE22" stroke-width="0.9" fill="none" stroke-linejoin="round"/><rect x="334.90" y="133.47" width="4.80" height="4.80" stroke="#6FAE22" stroke-width="0.9" fill="none" stroke-linejoin="round"/><rect x="337.40" y="136.12" width="4.80" height="4.80" stroke="#6FAE22" stroke-width="0.9" fill="none" stroke-linejoin="round"/><rect x="339.90" y="138.71" width="4.80" height="4.80" stroke="#6FAE22" stroke-width="0.9" fill="none" stroke-linejoin="round"/><rect x="342.40" y="141.12" width="4.80" height="4.80" stroke="#6FAE22" stroke-width="0.9" fill="none" stroke-linejoin="round"/><rect x="344.90" y="143.63" width="4.80" height="4.80" stroke="#6FAE22" stroke-width="0.9" fill="none" stroke-linejoin="round"/><rect x="347.40" y="146.67" width="4.80" height="4.80" stroke="#6FAE22" stroke-width="0.9" fill="none" stroke-linejoin="round"/><rect x="349.90" y="150.59" width="4.80" height="4.80" stroke="#6FAE22" stroke-width="0.9" fill="none" stroke-linejoin="round"/><rect x="352.40" y="154.40" width="4.80" height="4.80" stroke="#6FAE22" stroke-width="0.9" fill="none" stroke-linejoin="round"/><rect x="354.90" y="157.83" width="4.80" height="4.80" stroke="#6FAE22" stroke-width="0.9" fill="none" stroke-linejoin="round"/><rect x="357.40" y="161.22" width="4.80" height="4.80" stroke="#6FAE22" stroke-width="0.9" fill="none" stroke-linejoin="round"/><rect x="359.90" y="164.60" width="4.80" height="4.80" stroke="#6FAE22" stroke-width="0.9" fill="none" stroke-linejoin="round"/></g>
<rect x="198.8" y="100.4" width="168.0" height="93.69999999999999" fill="none" stroke="#555" stroke-width="0.6"/>
<path d="M201.29 194.1v-0.9M201.29 100.4v0.9M206.72 194.1v-0.9M206.72 100.4v0.9M210.57 194.1v-0.9M210.57 100.4v0.9M213.56 194.1v-0.9M213.56 100.4v0.9M216.01 194.1v-0.9M216.01 100.4v0.9M218.07 194.1v-0.9M218.07 100.4v0.9M219.86 194.1v-0.9M219.86 100.4v0.9M221.44 194.1v-0.9M221.44 100.4v0.9M222.85 194.1v-1.8M222.85 100.4v1.8M232.14 194.1v-0.9M232.14 100.4v0.9M237.57 194.1v-0.9M237.57 100.4v0.9M241.42 194.1v-0.9M241.42 100.4v0.9M244.41 194.1v-0.9M244.41 100.4v0.9M246.86 194.1v-0.9M246.86 100.4v0.9M248.92 194.1v-0.9M248.92 100.4v0.9M250.71 194.1v-0.9M250.71 100.4v0.9M252.29 194.1v-0.9M252.29 100.4v0.9M253.70 194.1v-1.8M253.70 100.4v1.8M262.99 194.1v-0.9M262.99 100.4v0.9M268.42 194.1v-0.9M268.42 100.4v0.9M272.27 194.1v-0.9M272.27 100.4v0.9M275.26 194.1v-0.9M275.26 100.4v0.9M277.71 194.1v-0.9M277.71 100.4v0.9M279.77 194.1v-0.9M279.77 100.4v0.9M281.56 194.1v-0.9M281.56 100.4v0.9M283.14 194.1v-0.9M283.14 100.4v0.9M284.55 194.1v-1.8M284.55 100.4v1.8M293.84 194.1v-0.9M293.84 100.4v0.9M299.27 194.1v-0.9M299.27 100.4v0.9M303.12 194.1v-0.9M303.12 100.4v0.9M306.11 194.1v-0.9M306.11 100.4v0.9M308.56 194.1v-0.9M308.56 100.4v0.9M310.62 194.1v-0.9M310.62 100.4v0.9M312.41 194.1v-0.9M312.41 100.4v0.9M313.99 194.1v-0.9M313.99 100.4v0.9M315.40 194.1v-1.8M315.40 100.4v1.8M324.69 194.1v-0.9M324.69 100.4v0.9M330.12 194.1v-0.9M330.12 100.4v0.9M333.97 194.1v-0.9M333.97 100.4v0.9M336.96 194.1v-0.9M336.96 100.4v0.9M339.41 194.1v-0.9M339.41 100.4v0.9M341.47 194.1v-0.9M341.47 100.4v0.9M343.26 194.1v-0.9M343.26 100.4v0.9M344.84 194.1v-0.9M344.84 100.4v0.9M346.25 194.1v-1.8M346.25 100.4v1.8M355.54 194.1v-0.9M355.54 100.4v0.9M360.97 194.1v-0.9M360.97 100.4v0.9M364.82 194.1v-0.9M364.82 100.4v0.9M198.8 184.50h1.8M366.8 184.50h-1.8M198.8 172.40h1.8M366.8 172.40h-1.8M198.8 160.30h1.8M366.8 160.30h-1.8M198.8 148.20h1.8M366.8 148.20h-1.8M198.8 136.10h1.8M366.8 136.10h-1.8M198.8 124.00h1.8M366.8 124.00h-1.8M198.8 111.90h1.8M366.8 111.90h-1.8" stroke="#555" stroke-width="0.5" fill="none"/>
<g font-family="'Liberation Sans', Arial, sans-serif" font-size="8.7" fill="#111" stroke="#111" stroke-width="0.25">
<text x="179.9" y="176.90">10<tspan font-size="6.6" dy="-4.4">-5</tspan></text>
<text x="183.0" y="116.40">10<tspan font-size="6.6" dy="-4.4">0</tspan></text>
<text x="246.0" y="208.9">10<tspan font-size="6.6" dy="-4.4">-2</tspan></text>
<text x="308.4" y="208.9">10<tspan font-size="6.6" dy="-4.4">0</tspan></text>
</g>
<g font-family="'Liberation Serif', 'Times New Roman', serif" font-style="italic" fill="#222">
<text x="275.2" y="206.3" font-size="9.6">A</text>
<text x="281.0" y="208.0" font-size="12.5">/</text>
<text x="286.2" y="206.3" font-size="9.6">A</text>
<path d="M286.8 198.4H292.8" stroke="#222" stroke-width="0.55"/>
<text transform="translate(180.7 157.0) rotate(-90)" font-size="10" letter-spacing="0.7">PDF</text>
</g>
</svg>
</body></html>
